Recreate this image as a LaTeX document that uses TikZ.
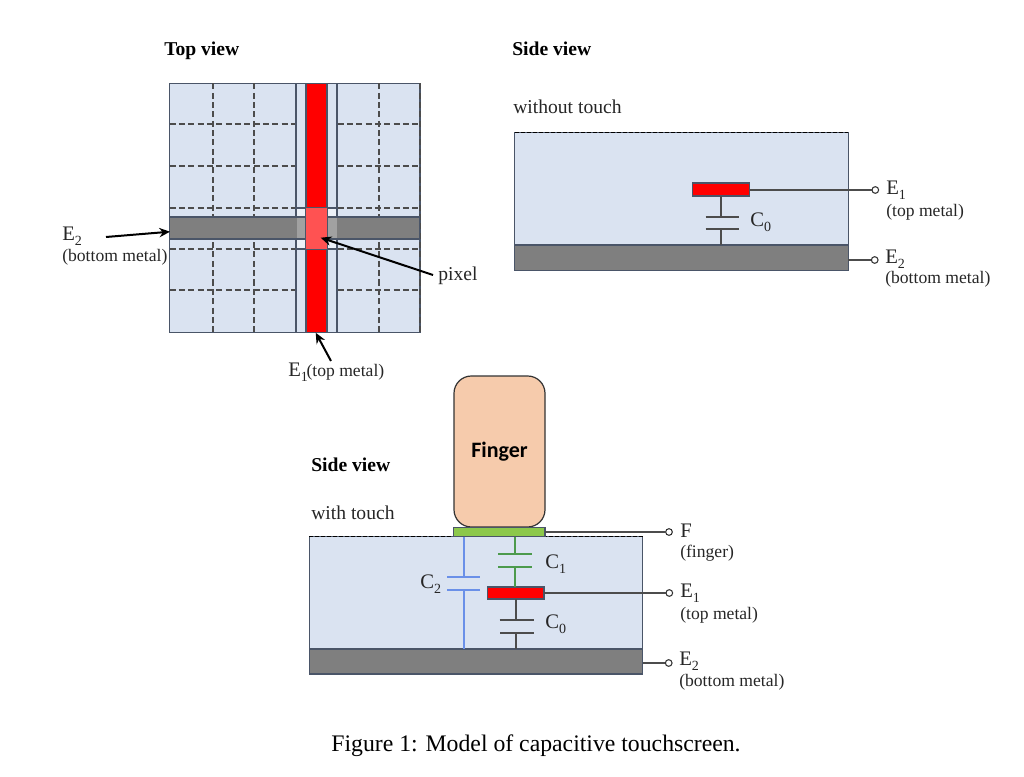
\documentclass[tikz,border=0pt]{standalone}
\usepackage{fontspec}
\setmainfont{Liberation Serif}
\newfontfamily\fingerfont{Carlito}
\usetikzlibrary{arrows.meta}
\definecolor{panel}{HTML}{DAE3F1}
\definecolor{edge}{HTML}{4A5568}
\definecolor{metal}{HTML}{7F7F7F}
\definecolor{redm}{HTML}{FF0000}
\definecolor{skin}{HTML}{F6CBAC}
\definecolor{leaf}{HTML}{8CC84B}
\definecolor{capb}{HTML}{6A90E8}
\definecolor{capg}{HTML}{4C9A4C}
\newcommand{\sbs}[1]{\raisebox{-0.55ex}{\fontsize{10.5}{10.5}\selectfont #1}}
\newcommand{\lsym}[2]{{\fontsize{15.5}{15.5}\selectfont #1\sbs{#2}}}
\tikzset{
 lbl/.style={anchor=west,inner sep=0pt,font=\fontsize{13.2}{15}\selectfont,text=black!85},
 lblb/.style={anchor=west,inner sep=0pt,font=\fontsize{14.7}{16}\selectfont,text=black!85},
 headl/.style={anchor=west,inner sep=0pt,font=\fontsize{14.7}{16}\selectfont\bfseries},
 boxl/.style={draw=edge,line width=1.1pt},
 dashl/.style={draw=black!70,line width=1.2pt,dash pattern=on 4.5pt off 2.5pt},
 topdash/.style={draw=black,line width=0.9pt,dash pattern=on 3pt off 1.5pt},
 wire/.style={draw=black!70,line width=1.2pt},
 cwire/.style={line width=1.4pt},
 arr/.style={draw=black,line width=1.5pt,-{Stealth[length=8pt,width=7pt]}},
 term/.style={circle,draw=black!80,fill=white,line width=0.8pt,minimum size=5pt,inner sep=0pt,outer sep=0pt},
 rectn/.style={rectangle,inner sep=0pt,outer sep=0pt,anchor=north west}
}
\newcommand{\rectpx}[6]{\node[rectn,boxl,fill=#6,minimum width=#3*0.75pt-#1*0.75pt,minimum height=#4*0.75pt-#2*0.75pt] (#5) at (#1,#2) {};}
\begin{document}
\begin{tikzpicture}[x=0.75pt,y=-0.75pt]
\useasboundingbox (0,0) rectangle (1024,777);
% ---- top view
\node[headl] (t1) at (164,50.5) {Top view};
\rectpx{169.5}{83.5}{420}{332.5}{tv}{panel}
\foreach \x/\n in {213/a,254/b,379/c,420/d}{
 \coordinate (vt\n) at (\x,83.5); \coordinate (vb\n) at (\x,332.5);
 \draw[dashl] (vt\n) -- (vb\n);}
\foreach \y/\n in {124/a,166/b,208/c,249/d,290/e}{
 \coordinate (hl\n) at (169.5,\y); \coordinate (hr\n) at (420,\y);
 \draw[dashl] (hl\n) -- (hr\n);}
\rectpx{296}{83.5}{337}{332.5}{col}{panel}
\rectpx{296}{208}{337}{249}{cross}{panel!50!white}
\rectpx{169.5}{217}{419.5}{239}{row}{metal}
\node[rectn,fill=black!37,minimum width=40*0.75pt,minimum height=21*0.75pt] (rowmid) at (296.5,217.5) {};
\rectpx{306}{83.5}{327}{332.5}{redbar}{redm}
\draw[wire,draw=edge] (296,208) -- (337,208) (296,249) -- (337,249);
\draw[wire,draw=edge] (296,217) -- (337,217) (296,239) -- (337,239);
\node[rectn,fill=red!68!white,minimum width=21*0.75pt,minimum height=41.5*0.75pt] (pix) at (306,208) {};
\node[lbl] (e2a) at (62,236) {\lsym{E}{2}};
\node[lbl] (e2am) at (62,257) {(bottom metal)};
\node[lblb] (plab) at (438,276) {pixel};
\node[lbl] (e1a) at (288,372) {\lsym{E}{1}\kern-1pt(top metal)};
\coordinate (e2s) at (106,237);
\coordinate (e2e) at (170,231.7);
\coordinate (ps) at (433,275);
\coordinate (pe) at (320.7,237.7);
\coordinate (es) at (331,361);
\coordinate (ee) at (315.7,332.7);
\draw[arr] (e2s) -- (e2e);
\draw[arr] (ps) -- (pe);
\draw[arr] (es) -- (ee);
% ---- side view no touch
\node[headl] (t2) at (512,49) {Side view};
\node[lblb] (t3) at (513,107) {without touch};
\rectpx{514.7}{132.7}{848.3}{245}{s1}{panel}
\rectpx{514.7}{245}{848.3}{270.7}{s1b}{metal}
\draw[topdash] (s1.north west) -- (s1.north east);
\rectpx{692.7}{183}{749.7}{196}{s1r}{redm}
\node[term] (s1t1) at (875.3,190) {};
\node[term] (s1t2) at (874.7,260) {};
\draw[wire] (s1t1 -| s1r.east) -- (s1t1);
\draw[wire] (s1t2 -| s1b.east) -- (s1t2);
\coordinate (c1a) at (721,217); \coordinate (c1b) at (721,229);
\draw[wire] (721,196) -- (c1a) (c1b) -- (721,245);
\draw[wire] (705.5,217) -- (739,217) (705.5,229) -- (739,229);
\node[lbl] (c0a) at (750,222) {\lsym{C}{0}};
\node[lbl] (s1e1) at (886,190) {\lsym{E}{1}};
\node[lbl] (s1e1m) at (886,212) {(top metal)};
\node[lbl] (s1e2) at (885,259) {\lsym{E}{2}};
\node[lbl] (s1e2m) at (885,279) {(bottom metal)};
% ---- finger
\node[rectn,draw=black!80,line width=0.9pt,fill=skin,rounded corners=13pt,minimum width=91*0.75pt,minimum height=151*0.75pt] (fing) at (454,376) {};
\node[inner sep=0pt,font=\fontsize{16.5}{18}\selectfont\fingerfont\bfseries] (fl) at (499.5,452) {Finger};
% ---- side view touch
\node[headl] (t4) at (311,465) {Side view};
\node[lblb] (t5) at (311,513) {with touch};
\rectpx{309.3}{536.7}{642.7}{649}{s2}{panel}
\rectpx{309.3}{649}{642.7}{674}{s2b}{metal}
\draw[topdash] (s2.north west) -- (s2.north east);
\rectpx{453.7}{527.3}{545}{536.7}{gr}{leaf}
\rectpx{487.3}{587}{544}{599}{s2r}{redm}
\node[term] (s2t0) at (669,532) {};
\node[term] (s2t1) at (669.3,593) {};
\node[term] (s2t2) at (668.7,663) {};
\draw[wire] (s2t0 -| gr.east) -- (s2t0);
\draw[wire] (s2t1 -| s2r.east) -- (s2t1);
\draw[wire] (s2t2 -| s2b.east) -- (s2t2);
% C1
\draw[cwire,draw=capg] (515,536.7) -- (515,554) (515,567) -- (515,587);
\draw[cwire,draw=capg] (498,554) -- (532,554) (498,567) -- (532,567);
% C0
\draw[wire] (516,599) -- (516,620) (516,633) -- (516,649);
\draw[wire] (499.5,620) -- (534,620) (500,633) -- (534,633);
% C2
\draw[cwire,draw=capb] (464,536.7) -- (464,577) (464,590) -- (464,649);
\draw[cwire,draw=capb] (447,577) -- (480,577) (447,590) -- (480,590);
\node[lbl] (c1l) at (545,564) {\lsym{C}{1}};
\node[lbl] (c2l) at (420,584) {\lsym{C}{2}};
\node[lbl] (c0l) at (545,624) {\lsym{C}{0}};
\node[lbl] (fa) at (680,531) {\fontsize{15.5}{15.5}\selectfont F};
\node[lbl] (fm) at (680,553) {(finger)};
\node[lbl] (e1b) at (680,593) {\lsym{E}{1}};
\node[lbl] (e1bm) at (680,615) {(top metal)};
\node[lbl] (e2b) at (679,661) {\lsym{E}{2}};
\node[lbl] (e2bm) at (679,682) {(bottom metal)};
% caption
\node[inner sep=0pt,font=\fontsize{17.8}{20}\selectfont] (cap) at (536,745.5) {Figure 1: Model of capacitive touchscreen.};
\end{tikzpicture}
\end{document}
